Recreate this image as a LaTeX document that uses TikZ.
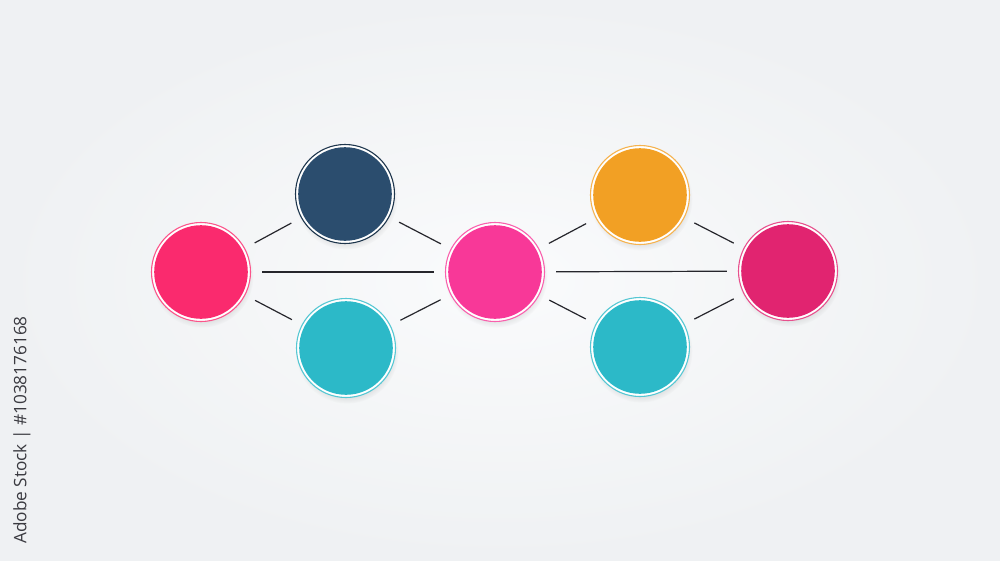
\documentclass[tikz,border=0pt]{standalone}
\usepackage{fontspec}
\setmainfont{Open Sans}
\usetikzlibrary{shadows,fadings}
\definecolor{bgin}{RGB}{250,251,252}
\definecolor{bgout}{RGB}{239,241,243}
\definecolor{cpinkL}{RGB}{250,42,110}
\definecolor{cnavy}{RGB}{43,77,110}
\definecolor{cteal}{RGB}{44,185,200}
\definecolor{cpinkC}{RGB}{248,56,152}
\definecolor{corange}{RGB}{242,160,36}
\definecolor{cmag}{RGB}{225,36,112}
\definecolor{linkc}{RGB}{38,38,44}
\definecolor{wmc}{RGB}{58,58,64}
\tikzset{
  disc/.style={circle, inner sep=0pt, minimum size=99pt, line width=1.1pt,
    draw=#1!80!white, fill=white,
    path picture={\fill[#1] (path picture bounding box.center) circle (46.8pt);},
    circular drop shadow={shadow xshift=1pt, shadow yshift=-4pt, shadow scale=1.04, opacity=0.22, fill=black!45}},
  darkdisc/.style={disc=#1, draw=#1!70!black},
  link/.style={draw=linkc, line width=1.2pt, shorten <=11pt, shorten >=11pt},
  idtext/.style={rotate=90, text=wmc, font=\fontsize{17.2}{20}\selectfont, inner sep=0pt}
}
\begin{document}
\begin{tikzpicture}[x=1pt,y=-1pt]
\useasboundingbox (0,0) rectangle (1000,560);
\shade[inner color=bgin, outer color=bgout] (0,0) rectangle (1000,560);

\node[disc=cpinkL]  (L)  at (201,272) {};
\node[darkdisc=cnavy] (TL) at (345,194) {};
\node[disc=cteal]   (BL) at (346,348) {};
\node[disc=cpinkC]  (C)  at (495,272) {};
\node[disc=corange] (TR) at (640,195) {};
\node[disc=cteal]   (BR) at (640,347) {};
\node[disc=cmag]    (R)  at (788,271) {};

\draw[link] (L) -- (TL);
\draw[link] (L) -- (BL);
\draw[link] (L) -- (C);
\draw[link] (TL) -- (C);
\draw[link] (BL) -- (C);
\draw[link] (C) -- (TR);
\draw[link] (C) -- (BR);
\draw[link] (C) -- (R);
\draw[link] (TR) -- (R);
\draw[link] (BR) -- (R);

\node[idtext] (id) at (22,430) {Adobe Stock | \#1038176168};
\end{tikzpicture}
\end{document}
